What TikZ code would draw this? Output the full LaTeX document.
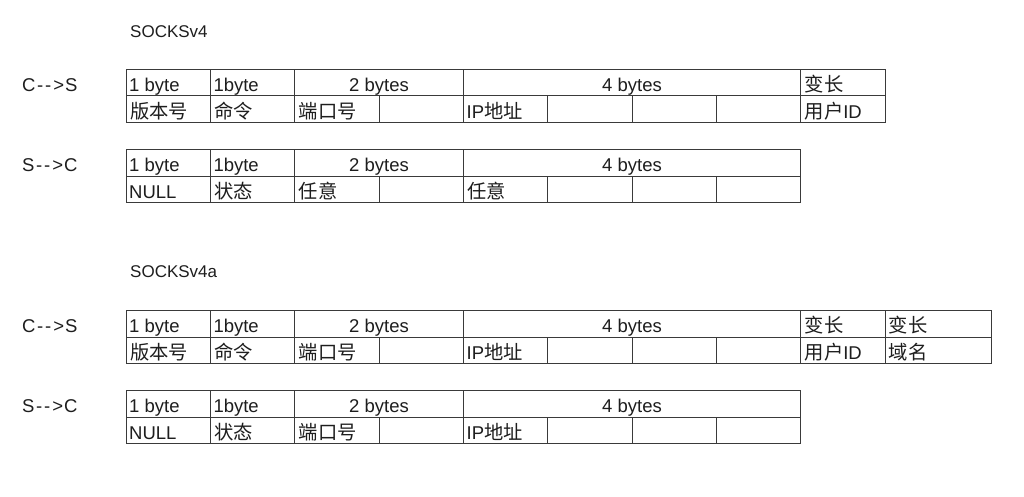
\documentclass[tikz,border=0pt]{standalone}
\usepackage{fontspec}
\setmainfont{Liberation Sans}
\newfontfamily\cjkfam{Noto Sans CJK SC}
\newcommand\zh{\cjkfam\fontsize{19.3}{20}\selectfont}
\definecolor{linecol}{HTML}{3A3A3A}
\definecolor{txtcol}{HTML}{1E1E1E}
\newcommand\pkt[4]{%
  \draw[gridline] (126,#1) rectangle (#2,#1+53.4);
  \draw[gridline] (126,#1+26.7) -- (#2,#1+26.7);
  \foreach \xx in {#3} \draw[gridline] (\xx,#1) -- (\xx,#1+26.7);
  \foreach \xx in {#4} \draw[gridline] (\xx,#1+26.7) -- (\xx,#1+53.4);
}
\begin{document}
\begin{tikzpicture}[x=1pt,y=-1pt,
  gridline/.style={draw=linecol,line width=1pt},
  lbl/.style={anchor=base west,inner sep=0pt,text=txtcol,font=\fontsize{18.5}{20}\selectfont},
  ctr/.style={anchor=base,inner sep=0pt,text=txtcol,font=\fontsize{18.5}{20}\selectfont},
  ttl/.style={anchor=base west,inner sep=0pt,text=txtcol,font=\fontsize{17}{20}\selectfont}]
\useasboundingbox[fill=white] (0,0) rectangle (1024,497);

% ---------- SOCKSv4 ----------
\node[ttl] (title4) at (130,37.3) {SOCKSv4};

% C-->S request
\pkt{69.3}{885}{210.3,294.7,463.4,800.7}{210.3,294.7,379,463.4,547.7,632,716.4,800.7}
\node[lbl] (dir1) at (22,91.7) {C\kern1.5pt-\kern2pt-\kern2pt>\kern1pt S};
\node[lbl] (a1) at (129,91.7) {1 byte};
\node[lbl] (a2) at (213.3,91.7) {1byte};
\node[ctr] (a3) at (379,91.7) {2 bytes};
\node[ctr] (a4) at (632,91.7) {4 bytes};
\node[lbl] (a5) at (804.5,91.7) {\zh 变长};
\node[lbl] (b1) at (130,118.4) {\zh 版本号};
\node[lbl] (b2) at (214,118.4) {\zh 命令};
\node[lbl] (b3) at (298.5,118.4) {\zh 端口号};
\node[lbl] (b4) at (466.4,118.4) {IP{\zh 地址}};
\node[lbl] (b5) at (804.5,118.4) {{\zh 用户}ID};

% S-->C reply
\pkt{149.5}{800.7}{210.3,294.7,463.4}{210.3,294.7,379,463.4,547.7,632,716.4}
\node[lbl] (dir2) at (22,171.9) {S\kern1.5pt-\kern2pt-\kern2pt>\kern1pt C};
\node[lbl] (c1) at (129,171.9) {1 byte};
\node[lbl] (c2) at (213.3,171.9) {1byte};
\node[ctr] (c3) at (379,171.9) {2 bytes};
\node[ctr] (c4) at (632,171.9) {4 bytes};
\node[lbl] (d1) at (129,198.6) {NULL};
\node[lbl] (d2) at (214,198.6) {\zh 状态};
\node[lbl] (d3) at (298.5,198.6) {\zh 任意};
\node[lbl] (d4) at (467,198.6) {\zh 任意};

% ---------- SOCKSv4a ----------
\node[ttl] (title4a) at (130,277.5) {SOCKSv4a};

% C-->S request
\pkt{310.3}{991}{210.3,294.7,463.4,800.7,885}{210.3,294.7,379,463.4,547.7,632,716.4,800.7,885}
\node[lbl] (dir3) at (22,332.7) {C\kern1.5pt-\kern2pt-\kern2pt>\kern1pt S};
\node[lbl] (e1) at (129,332.7) {1 byte};
\node[lbl] (e2) at (213.3,332.7) {1byte};
\node[ctr] (e3) at (379,332.7) {2 bytes};
\node[ctr] (e4) at (632,332.7) {4 bytes};
\node[lbl] (e5) at (804.5,332.7) {\zh 变长};
\node[lbl] (e6) at (888.5,332.7) {\zh 变长};
\node[lbl] (f1) at (130,359.4) {\zh 版本号};
\node[lbl] (f2) at (214,359.4) {\zh 命令};
\node[lbl] (f3) at (298.5,359.4) {\zh 端口号};
\node[lbl] (f4) at (466.4,359.4) {IP{\zh 地址}};
\node[lbl] (f5) at (804.5,359.4) {{\zh 用户}ID};
\node[lbl] (f6) at (888.5,359.4) {\zh 域名};

% S-->C reply
\pkt{390.5}{800.7}{210.3,294.7,463.4}{210.3,294.7,379,463.4,547.7,632,716.4}
\node[lbl] (dir4) at (22,412.9) {S\kern1.5pt-\kern2pt-\kern2pt>\kern1pt C};
\node[lbl] (g1) at (129,412.9) {1 byte};
\node[lbl] (g2) at (213.3,412.9) {1byte};
\node[ctr] (g3) at (379,412.9) {2 bytes};
\node[ctr] (g4) at (632,412.9) {4 bytes};
\node[lbl] (h1) at (129,439.6) {NULL};
\node[lbl] (h2) at (214,439.6) {\zh 状态};
\node[lbl] (h3) at (298.5,439.6) {\zh 端口号};
\node[lbl] (h4) at (466.4,439.6) {IP{\zh 地址}};
\end{tikzpicture}
\end{document}
